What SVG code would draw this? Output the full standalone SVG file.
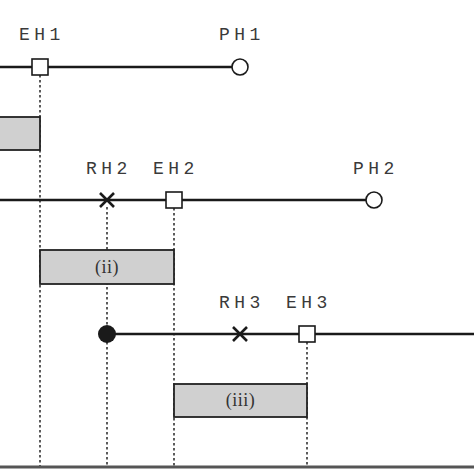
<svg xmlns="http://www.w3.org/2000/svg" width="474" height="474" viewBox="0 0 474 474">
<style>
.line{stroke:#1a1a1a;stroke-width:2.4;fill:none}
.dot{stroke:#333;stroke-width:1.6;stroke-dasharray:2.5 2.5;fill:none}
.sq{fill:#fff;stroke:#1a1a1a;stroke-width:1.6}
.circ{fill:#fff;stroke:#1a1a1a;stroke-width:1.6}
.x{stroke:#1a1a1a;stroke-width:2.6}
.box{fill:#d0d0d0;stroke:#222;stroke-width:1.8}
.lbl{font-family:"Liberation Mono",monospace;font-size:18px;letter-spacing:4.5px;fill:#3a3a3a}
.blbl{font-family:"Liberation Serif",serif;font-size:18px;fill:#333;text-anchor:middle;letter-spacing:0.5px}
</style>
<rect width="474" height="474" fill="#fff"/>
<g id="connectors">
<line class="dot" x1="40" y1="75" x2="40" y2="466"/>
<line class="dot" x1="107" y1="207" x2="107" y2="466"/>
<line class="dot" x1="174" y1="208" x2="174" y2="466"/>
<line class="dot" x1="307" y1="342" x2="307" y2="466"/>
<line class="line" x1="0" y1="67" x2="232" y2="67"/>
<line class="line" x1="0" y1="200" x2="366" y2="200"/>
<line class="line" x1="107" y1="334" x2="474" y2="334"/>
<line x1="0" y1="467" x2="474" y2="467" stroke="#555" stroke-width="3"/>
</g>
<g id="box1"><rect class="box" x="-2" y="117" width="42" height="33"/></g>
<g id="box2"><rect class="box" x="40" y="250" width="134" height="34"/><text class="blbl" x="107" y="273">(ii)</text></g>
<g id="box3"><rect class="box" x="174" y="384" width="133" height="33"/><text class="blbl" x="240.5" y="406">(iii)</text></g>
<g id="EH1"><rect class="sq" x="32" y="59" width="16" height="16"/><text class="lbl" x="19" y="40">EH1</text></g>
<g id="PH1"><circle class="circ" cx="240" cy="67" r="8"/><text class="lbl" x="219" y="40">PH1</text></g>
<g id="RH2"><path class="x" d="M100 193L114 207M114 193L100 207"/><text class="lbl" x="86" y="174">RH2</text></g>
<g id="EH2"><rect class="sq" x="166" y="192" width="16" height="16"/><text class="lbl" x="153" y="174">EH2</text></g>
<g id="PH2"><circle class="circ" cx="374" cy="200" r="8"/><text class="lbl" x="353" y="174">PH2</text></g>
<g id="start3"><circle cx="107" cy="334" r="9" fill="#1a1a1a"/></g>
<g id="RH3"><path class="x" d="M233 327L247 341M247 327L233 341"/><text class="lbl" x="219" y="308">RH3</text></g>
<g id="EH3"><rect class="sq" x="299" y="326" width="16" height="16"/><text class="lbl" x="286" y="308">EH3</text></g>
</svg>
